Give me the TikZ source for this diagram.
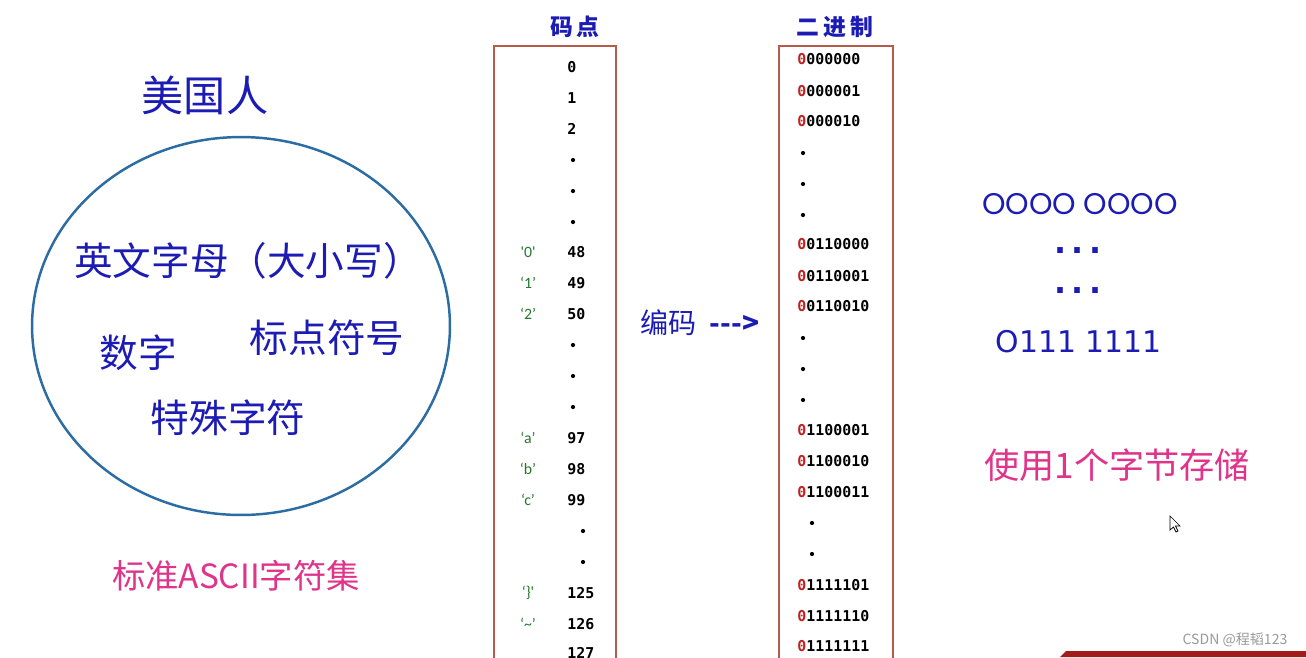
\documentclass[tikz,border=0pt]{standalone}
\usepackage{fontspec}
\usepackage{xcolor}
\usepackage{tikz}
\usetikzlibrary{shapes.geometric,positioning}
\newfontfamily\cjk{Noto Sans CJK SC}
\newfontfamily\monob{DejaVu Sans Mono}
\newfontfamily\labf{Carlito}
\newfontfamily\roundf{Poppins}
\newfontfamily\dejav{DejaVu Sans}
\definecolor{cInk}{HTML}{1C1CB4}
\definecolor{cRing}{HTML}{2C6CA4}
\definecolor{cPink}{HTML}{E0338A}
\definecolor{cQuote}{HTML}{23782A}
\definecolor{cBox}{HTML}{B65A4C}
\definecolor{cBit}{HTML}{C02020}
\definecolor{cMark}{HTML}{9A9A9A}
\tikzset{
  hand/.style  = {font=\cjk\fontsize{22}{24}\selectfont, text=cInk, inner sep=0pt},
  pinkt/.style = {font=\cjk\fontsize{19}{21}\selectfont, text=cPink, inner sep=0pt},
  head/.style  = {font=\cjk\bfseries\fontsize{13}{15}\selectfont, text=cInk, inner sep=0pt},
  col/.style   = {draw=cBox, line width=1.2pt},
  num/.style   = {font=\monob\bfseries\fontsize{8.5}{10}\selectfont, inner sep=0pt, anchor=west},
  qt/.style    = {font=\labf\fontsize{9}{10}\selectfont, text=cQuote, inner sep=0pt},
  dotm/.style  = {circle, fill=black, inner sep=0pt, minimum size=2.4pt},
  byte/.style  = {text=cInk, inner sep=0pt},
}
\newcommand{\bitz}[1]{\textcolor{cBit}{0}#1}

\begin{document}
\begin{tikzpicture}[x=0.02cm, y=-0.02cm]
  \clip (0,0) rectangle (1306,657);
  \fill[white] (0,0) rectangle (1306,657);

  % left: the character set
  \node[hand, font=\cjk\fontsize{24}{26}\selectfont] (people) at (205,95) {美国人};
  \node[draw=cRing, line width=1.4pt, ellipse, inner sep=0pt,
        minimum width=8.36cm, minimum height=7.56cm] (set) at (241,326) {};
  \node[hand] (letters) at (248,261) {英文字母（大小写）};
  \node[hand] (digits) at (138,353) {数字};
  \node[hand] (punct) at (327,338) {标点符号};
  \node[hand] (special) at (228,418) {特殊字符};
  \node[pinkt] (ascii) at (236,576) {标准ASCII字符集};

  % code point column
  \node[head] (cpHead) at (575,27) {码\,点};
  \draw[col] (494,700) |- (616,46) -- (616,700);
  \foreach \y/\n [count=\i] in {67/0,98/1,129/2,252/48,283/49,314/50,438/97,469/98,500/99,593/125,624/126,653/127}
    \node[num] (cp\i) at (567,\y) {\n};
  \foreach \y/\c [count=\i] in {252/{'0'},283/{‘1’},314/{‘2’},438/{‘a’},469/{‘b’},500/{‘c’},593/{‘\}'},624/{‘\textasciitilde’}}
    \node[qt] (ch\i) at (528,\y) {\c};
  \foreach \y in {160,191,222,345,376,407}
    \node[dotm] at (573,\y) {};
  \foreach \y in {531,562}
    \node[dotm] at (583,\y) {};

  % encoding
  \node[font=\cjk\fontsize{16}{18}\selectfont, text=cInk, inner sep=0pt] (enc) at (700,323)
    {编码\ \ {\bfseries -{}-{}->}};

  % binary column
  \node[head] (bnHead) at (835,27) {二\,进\,制};
  \draw[col] (779,700) |- (893,46) -- (893,700);
  \foreach \y/\b [count=\i] in {59/000000,91/000001,121/000010,244/0110000,276/0110001,306/0110010,
                                430/1100001,461/1100010,492/1100011,585/1111101,616/1111110,646/1111111}
    \node[num] (bn\i) at (797,\y) {\bitz{\b}};
  \foreach \y in {153,184,215,338,369,400}
    \node[dotm] at (803,\y) {};
  \foreach \y in {523,554}
    \node[dotm] at (812,\y) {};

  % right: one byte
  \node[byte, font=\roundf\fontsize{17}{19}\selectfont] (low) at (1080,204) {OOOO OOOO};
  \node[byte, font=\dejav\bfseries\fontsize{18}{20}\selectfont] (gap1) at (1078,251) {.\,.\,.};
  \node[byte, font=\dejav\bfseries\fontsize{18}{20}\selectfont] (gap2) at (1078,291) {.\,.\,.};
  \node[byte, font=\dejav\fontsize{17}{19}\selectfont] (high) at (1079,342) {O111 1111};
  \node[pinkt, font=\cjk\fontsize{20}{22}\selectfont] (store) at (1117,465) {使用1个字节存储};

  % screenshot leftovers
  \draw[black, fill=white, line width=0.4pt] (1170,516) -- (1170,530) -- (1173.5,527) -- (1176,532)
    -- (1178,531) -- (1175.5,526) -- (1180,526) -- cycle;
  \node[font=\cjk\fontsize{8}{9}\selectfont, text=cMark, inner sep=0pt] (mark) at (1235,640) {CSDN @程韬123};
  \fill[cBit!85!black] (1066,651) -- (1306,651) -- (1306,657) -- (1060,657) -- cycle;
\end{tikzpicture}
\end{document}
